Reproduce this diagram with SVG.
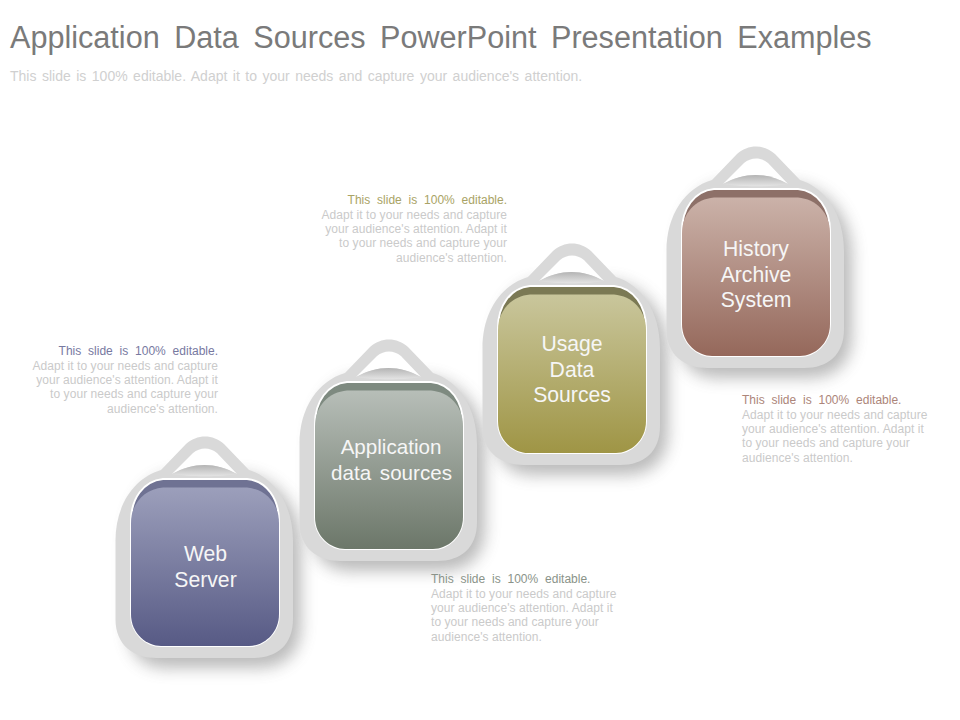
<svg xmlns="http://www.w3.org/2000/svg" width="960" height="720" viewBox="0 0 960 720">
<style>
text{font-family:"Liberation Sans",Arial,sans-serif}
.title{font-size:30.6px;fill:#7a7a7a;word-spacing:6px}
.sub{font-size:14px;fill:#d0d0d0;word-spacing:1.6px}
.lbl{font-size:21.2px;fill:#f6f6f6;text-anchor:middle}
.app{font-size:20.6px;word-spacing:3px}
.h{font-size:12px;word-spacing:3.5px}
.b{font-size:12px;fill:#cacaca;letter-spacing:.06px}
.e{text-anchor:end}
</style>
<defs>
<filter id="sh" x="-20%" y="-20%" width="150%" height="150%"><feGaussianBlur stdDeviation="8"/></filter>
<linearGradient id="dome" x1="0" y1="0" x2="0" y2="1"><stop offset="0" stop-color="#b4b4b4"/><stop offset="1" stop-color="#e4e4e4"/></linearGradient>
<linearGradient id="g1" x1="0" y1="0" x2="0" y2="1"><stop offset="0" stop-color="#9c9fbb"/><stop offset="1" stop-color="#575a85"/></linearGradient>
<linearGradient id="g2" x1="0" y1="0" x2="0" y2="1"><stop offset="0" stop-color="#b7beb8"/><stop offset="1" stop-color="#6c7769"/></linearGradient>
<linearGradient id="g3" x1="0" y1="0" x2="0" y2="1"><stop offset="0" stop-color="#c9c69c"/><stop offset="1" stop-color="#9f9545"/></linearGradient>
<linearGradient id="g4" x1="0" y1="0" x2="0" y2="1"><stop offset="0" stop-color="#cbb2a9"/><stop offset="1" stop-color="#95685b"/></linearGradient>
<path id="outer" d="M-15.5 62C-15.5 26 3 -1 30 -9L55 -35C66 -45 82 -45 93 -35L118 -9C144 -1 162 26 162 62V140C162 166 146 179 122 179H26C2 179 -15.5 166 -15.5 140Z"/>
<path id="hole" d="M41 -5L62 -26C69 -32 79 -32 86 -26L106 -5C84 -17 63 -17 41 -5Z" fill="#fff"/>
<path id="dm" d="M41 -5C63 -17 84 -17 106 -5C90 -2 58 -2 41 -5Z" fill="url(#dome)"/>
<path id="shadow" d="M-3 70C-3 25 15 0 40 -4H115C145 0 170 25 170 70V145C170 176 152 189 126 189H36C12 189 -3 176 -3 145Z" fill="#555" opacity=".4" filter="url(#sh)"/>
<path id="inner" d="M32 0H116C136 2 148 20 148 42V135C148 155 132 167 118 167H30C16 167 0 155 0 135V42C0 20 12 2 32 0Z"/>
<path id="face" d="M32 8.5H116C134 10 148 24 148 44V135C148 155 132 167 118 167H30C16 167 0 155 0 135V44C0 24 14 10 32 8.5Z"/>
</defs>
<rect width="960" height="720" fill="#fff"/>
<text class="title" x="10" y="48">Application Data Sources PowerPoint Presentation Examples</text>
<text class="sub" x="10" y="80.5">This slide is 100% editable. Adapt it to your needs and capture your audience's attention.</text>

<g id="node-web-server" transform="translate(131 479)">
<use href="#shadow"/><use href="#outer" fill="#d9d9d9"/><use href="#hole"/><use href="#dm"/>
<use href="#inner" fill="#6f7293" stroke="#fff" stroke-width="2"/><use href="#face" fill="url(#g1)"/>
<text class="lbl" x="74.5" y="82">Web</text><text class="lbl" x="74.5" y="108">Server</text>
</g>
<g id="node-application-data-sources" transform="translate(315 382)">
<use href="#shadow"/><use href="#outer" fill="#d9d9d9"/><use href="#hole"/><use href="#dm"/>
<use href="#inner" fill="#7e8a80" stroke="#fff" stroke-width="2"/><use href="#face" fill="url(#g2)"/>
<text class="lbl app" x="76" y="72">Application</text><text class="lbl app" x="76.5" y="98">data sources</text>
</g>
<g id="node-usage-data-sources" transform="translate(498 286)">
<use href="#shadow"/><use href="#outer" fill="#d9d9d9"/><use href="#hole"/><use href="#dm"/>
<use href="#inner" fill="#7b7954" stroke="#fff" stroke-width="2"/><use href="#face" fill="url(#g3)"/>
<text class="lbl" x="74" y="65">Usage</text><text class="lbl" x="74" y="91">Data</text><text class="lbl" x="74" y="116">Sources</text>
</g>
<g id="node-history-archive-system" transform="translate(682 189)">
<use href="#shadow"/><use href="#outer" fill="#d9d9d9"/><use href="#hole"/><use href="#dm"/>
<use href="#inner" fill="#8d7068" stroke="#fff" stroke-width="2"/><use href="#face" fill="url(#g4)"/>
<text class="lbl" x="74" y="67">History</text><text class="lbl" x="74" y="93">Archive</text><text class="lbl" x="74" y="118">System</text>
</g>

<g id="note-web-server">
<text class="h e" x="218" y="355" fill="#77799f">This slide is 100% editable.</text>
<text class="b e" x="218" y="370">Adapt it to your needs and capture</text>
<text class="b e" x="218" y="384">your audience's attention. Adapt it</text>
<text class="b e" x="218" y="398">to your needs and capture your</text>
<text class="b e" x="218" y="413">audience's attention.</text>
</g>
<g id="note-application">
<text class="h" x="431" y="583" fill="#8a9389">This slide is 100% editable.</text>
<text class="b" x="431" y="598">Adapt it to your needs and capture</text>
<text class="b" x="431" y="612">your audience's attention. Adapt it</text>
<text class="b" x="431" y="626">to your needs and capture your</text>
<text class="b" x="431" y="641">audience's attention.</text>
</g>
<g id="note-usage">
<text class="h e" x="507" y="204" fill="#a9a365">This slide is 100% editable.</text>
<text class="b e" x="507" y="219">Adapt it to your needs and capture</text>
<text class="b e" x="507" y="233">your audience's attention. Adapt it</text>
<text class="b e" x="507" y="247">to your needs and capture your</text>
<text class="b e" x="507" y="262">audience's attention.</text>
</g>
<g id="note-history">
<text class="h" x="742" y="404" fill="#ac8579">This slide is 100% editable.</text>
<text class="b" x="742" y="419">Adapt it to your needs and capture</text>
<text class="b" x="742" y="433">your audience's attention. Adapt it</text>
<text class="b" x="742" y="447">to your needs and capture your</text>
<text class="b" x="742" y="462">audience's attention.</text>
</g>
<g id="connectors"/>
</svg>
